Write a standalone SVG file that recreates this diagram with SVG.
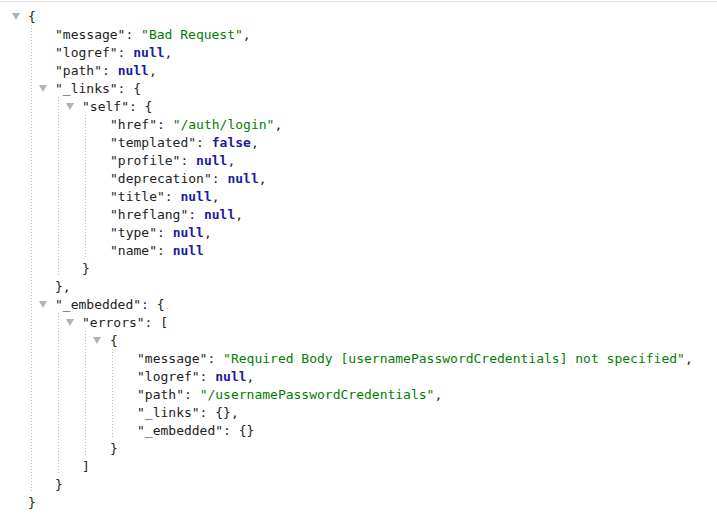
<svg xmlns="http://www.w3.org/2000/svg" width="717" height="526" viewBox="0 0 717 526">
<style>
text{font-family:"DejaVu Sans Mono",monospace;font-size:13px;fill:#222;white-space:pre}
.s{fill:#008000}.n{fill:#1a1aa6;font-weight:bold}
.g{stroke:#bbb;stroke-width:1;stroke-dasharray:1,2;fill:none}
.t{fill:#b3b3b3}
</style>
<rect width="717" height="526" fill="#fff"/>
<line x1="0" y1="1.5" x2="717" y2="1.5" stroke="#ddd"/>
<g id="guides">
<line class="g" x1="31.5" y1="25" x2="31.5" y2="492"/>
<line class="g" x1="58.5" y1="97" x2="58.5" y2="276"/>
<line class="g" x1="85.5" y1="115" x2="85.5" y2="258"/>
<line class="g" x1="58.5" y1="313" x2="58.5" y2="474"/>
<line class="g" x1="85.5" y1="331" x2="85.5" y2="456"/>
<line class="g" x1="112.5" y1="349" x2="112.5" y2="438"/>
</g>
<g id="toggles">
<path class="t" d="M12 13h8l-4 7z"/>
<path class="t" d="M39 85h8l-4 7z"/>
<path class="t" d="M66 103h8l-4 7z"/>
<path class="t" d="M39 301h8l-4 7z"/>
<path class="t" d="M66 319h8l-4 7z"/>
<path class="t" d="M93 337h8l-4 7z"/>
</g>
<g id="json">
<text x="28" y="21">{</text>
<text x="55" y="39">"message": <tspan class="s">"Bad Request"</tspan>,</text>
<text x="55" y="57">"logref": <tspan class="n">null</tspan>,</text>
<text x="55" y="75">"path": <tspan class="n">null</tspan>,</text>
<text x="55" y="93">"_links": {</text>
<text x="82" y="111">"self": {</text>
<text x="110" y="129">"href": <tspan class="s">"/auth/login"</tspan>,</text>
<text x="110" y="147">"templated": <tspan class="n">false</tspan>,</text>
<text x="110" y="165">"profile": <tspan class="n">null</tspan>,</text>
<text x="110" y="183">"deprecation": <tspan class="n">null</tspan>,</text>
<text x="110" y="201">"title": <tspan class="n">null</tspan>,</text>
<text x="110" y="219">"hreflang": <tspan class="n">null</tspan>,</text>
<text x="110" y="237">"type": <tspan class="n">null</tspan>,</text>
<text x="110" y="255">"name": <tspan class="n">null</tspan></text>
<text x="82" y="273">}</text>
<text x="55" y="291">},</text>
<text x="55" y="309">"_embedded": {</text>
<text x="82" y="327">"errors": [</text>
<text x="110" y="345">{</text>
<text x="137" y="363">"message": <tspan class="s">"Required Body [usernamePasswordCredentials] not specified"</tspan>,</text>
<text x="137" y="381">"logref": <tspan class="n">null</tspan>,</text>
<text x="137" y="399">"path": <tspan class="s">"/usernamePasswordCredentials"</tspan>,</text>
<text x="137" y="417">"_links": {},</text>
<text x="137" y="435">"_embedded": {}</text>
<text x="110" y="453">}</text>
<text x="82" y="471">]</text>
<text x="55" y="489">}</text>
<text x="28" y="507">}</text>
</g>
</svg>
